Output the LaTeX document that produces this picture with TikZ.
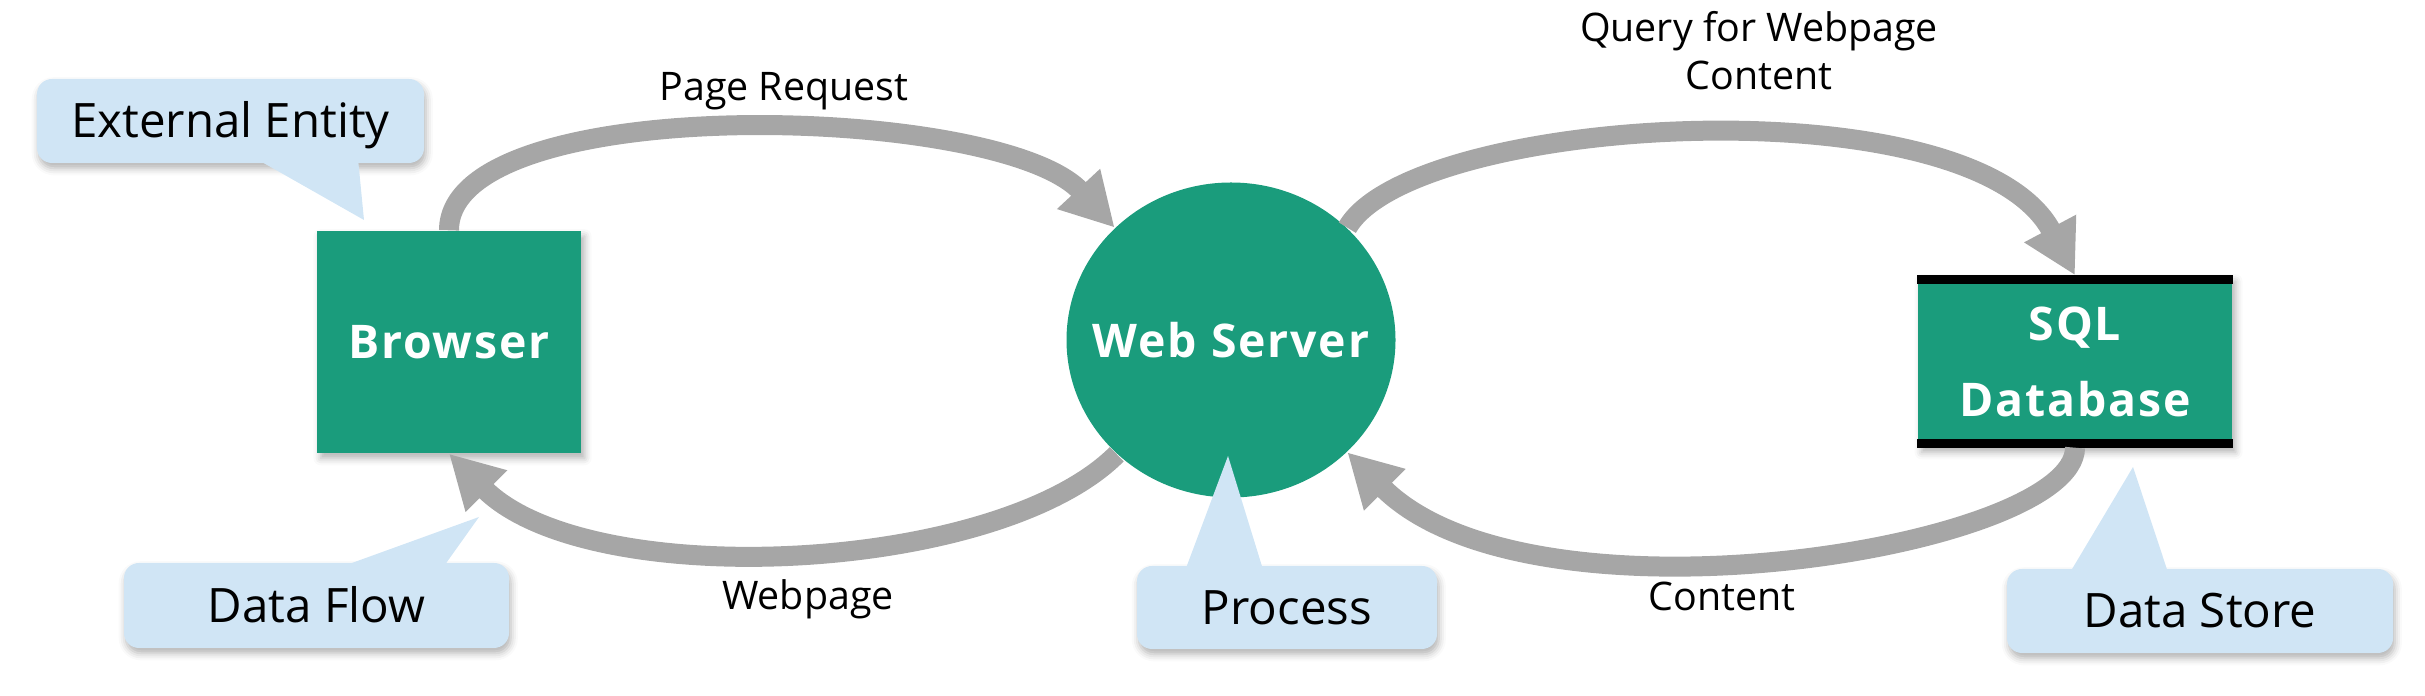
\documentclass[tikz,border=0pt]{standalone}
\usepackage{fontspec}
\setmainfont{Open Sans}
\usepackage{xcolor}
\definecolor{dfd1}{RGB}{26,156,124}
\definecolor{dfd2}{RGB}{208,229,245}
\definecolor{dfd3}{RGB}{166,166,166}
\usepackage{tikz}
\usetikzlibrary{shapes.geometric, arrows.meta, shadows.blur}
\tikzstyle{dfdtext} = [
    text=white,
    font=\fontsize{13.2}{21.6}\selectfont\bfseries\addfontfeatures{LetterSpace=4},
]
\tikzstyle{dfdnode} = [
    dfdtext,
    fill=dfd1,
    inner sep=0pt, text centered,
]
\tikzstyle{entity} = [
    dfdnode, rectangle,
    minimum width=2.64cm,
    minimum height=2.22cm,
    blur shadow={shadow xshift=1pt, shadow yshift=-1.5pt, shadow blur radius=2pt, shadow opacity=30},
]
\tikzstyle{process} = [
    dfdnode, ellipse,
    minimum width=3.29cm,
    minimum height=3.15cm,
]
\tikzstyle{store} = [
    dfdnode, rectangle, align=center,
    minimum width=3.14cm,
    minimum height=1.71cm,
    blur shadow={shadow xshift=1pt, shadow yshift=-1.5pt, shadow blur radius=2pt, shadow opacity=30},
]
\tikzstyle{note} = [
    rectangle, rounded corners=0.15cm,
    fill=dfd2,
    minimum height=0.84cm,
    font=\fontsize{13.5}{16}\selectfont,
    text height=9.6pt, text depth=0pt,
    blur shadow={shadow xshift=0.5pt, shadow yshift=-1.5pt, shadow blur radius=2pt, shadow opacity=30},
]
\tikzstyle{flowlabel} = [font=\fontsize{11.2}{13.7}\selectfont, inner sep=0pt, align=center]
\tikzstyle{flow} = [draw=dfd3, line width=0.2cm, -{Triangle[length=0.53cm, width=0.55cm]}]

\begin{document}
\begin{tikzpicture}
    \useasboundingbox (0,0) rectangle (24.25,6.96);

    % entity, process, store
    \node (browser) at (4.49, 3.54) [entity] {Browser};
    \node (ws) at (12.31, 3.56) [process, label={[dfdtext]center:Web Server}] {};
    \node (db) at (20.75, 3.345) [store] {SQL\\Database};
    \draw [line width=0.09cm] ([yshift=-0.045cm]db.north west) -- ([yshift=-0.045cm]db.north east);
    \draw [line width=0.09cm] ([yshift=0.045cm]db.south west) -- ([yshift=0.045cm]db.south east);

    % flows
    \draw [flow] (browser.north) .. controls +(90:1.4) and +(133:1.7) .. (ws.136);
    \draw [flow] (ws.44) .. controls +(60:1.3) and +(118:2.2) .. (db.north);
    \draw [flow] (db.south) .. controls +(270:1.0) and +(-45:2.6) .. (ws.-44);
    \draw [flow] (ws.225) .. controls +(225:1.7) and +(-45:1.97) .. (browser.south);

    \node (lreq) at (7.84, 5.95) [flowlabel, anchor=base] {Page Request};
    \node (lquery) at (17.59, 6.45) [flowlabel] {Query for Webpage\\Content};
    \node (lcont) at (17.22, 0.85) [flowlabel, anchor=base] {Content};
    \node (lpage) at (8.08, 0.86) [flowlabel, anchor=base] {Webpage};

    % notes
    \node (ee) at (2.305, 5.75) [note, minimum width=3.87cm] {External Entity};
    \coordinate (eetip) at (3.64, 4.76);
    \fill [dfd2] ([shift={(2.25,0.02)}]ee.south west) -- ([shift={(3.22,0.02)}]ee.south west) -- (eetip) -- cycle;

    \node (df) at (3.165, 0.905) [note, minimum width=3.85cm, minimum height=0.85cm] {Data Flow};
    \coordinate (dftip) at (4.79, 1.79);
    \fill [dfd2] ([shift={(2.25,-0.02)}]df.north west) -- ([shift={(3.22,-0.02)}]df.north west) -- (dftip) -- cycle;

    \node (pr) at (12.87, 0.885) [note, minimum width=3.00cm, minimum height=0.83cm] {Process};
    \coordinate (prtip) at (12.28, 2.40);
    \fill [dfd2] ([shift={(0.50,-0.02)}]pr.north west) -- ([shift={(1.26,-0.02)}]pr.north west) -- (prtip) -- cycle;

    \node (ds) at (22.0, 0.85) [note, minimum width=3.86cm] {Data Store};
    \coordinate (dstip) at (21.33, 2.29);
    \fill [dfd2] ([shift={(0.65,-0.02)}]ds.north west) -- ([shift={(1.61,-0.02)}]ds.north west) -- (dstip) -- cycle;
\end{tikzpicture}
\end{document}
